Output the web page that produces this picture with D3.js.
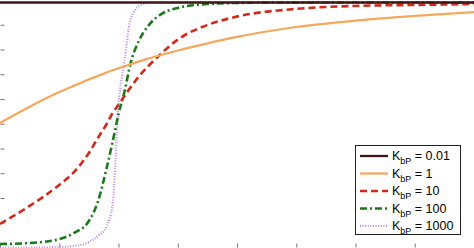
<!DOCTYPE html>
<html>
<head>
<meta charset="utf-8">
<script src="https://cdn.jsdelivr.net/npm/d3@7"></script>
<style>
  body { margin: 0; background: #fff; }
  svg { display: block; }
</style>
</head>
<body>
<div class="vis-linechart"></div>
<script>
// sample positions along x (data units) and curve values
const xs = [0, 0.5, 1, 1.25, 1.5, 1.65, 1.8, 1.9, 2, 2.1, 2.2, 2.35, 2.5, 2.75, 3, 3.5, 4, 5, 6, 7, 8];
const kLabels = ['0.01', '1', '10', '100', '1000'];
const yK001 = [0.99, 0.99, 0.99, 0.99, 0.99, 0.99, 0.99, 0.99, 0.99, 0.99, 0.99, 0.99, 0.99, 0.99, 0.99, 0.99, 0.99, 0.99, 0.99, 0.99, 0.99];
const yK1 = [0.503, 0.569, 0.628, 0.654, 0.679, 0.693, 0.707, 0.716, 0.724, 0.732, 0.740, 0.752, 0.763, 0.780, 0.796, 0.825, 0.851, 0.891, 0.917, 0.936, 0.951];
const yK10 = [0.095, 0.168, 0.253, 0.305, 0.382, 0.442, 0.499, 0.543, 0.577, 0.612, 0.646, 0.693, 0.732, 0.790, 0.840, 0.899, 0.933, 0.964, 0.976, 0.980, 0.984];
const yK100 = [0.014, 0.018, 0.034, 0.059, 0.107, 0.184, 0.321, 0.426, 0.539, 0.628, 0.741, 0.838, 0.895, 0.947, 0.968, 0.984, 0.988, 0.99, 0.99, 0.99, 0.99];
const yK1000 = [0.0, 0.0, 0.002, 0.006, 0.022, 0.046, 0.087, 0.172, 0.576, 0.75, 0.919, 0.976, 0.988, 0.99, 0.99, 0.99, 0.99, 0.99, 0.99, 0.99, 0.99];
const xTicks = [0, 1, 2, 3, 4, 5, 6, 7, 8];
const yTicks = [0.1, 0.2, 0.3, 0.4, 0.5, 0.6, 0.7, 0.8, 0.9];

const width = 474, height = 248;

const series = [
    { k: kLabels[0], values: yK001, color: '#3e1616', width: 2.3, dash: null },
    { k: kLabels[1], values: yK1, color: '#f7a65c', width: 2.2, dash: null },
    { k: kLabels[2], values: yK10, color: '#d02a1c', width: 2.6, dash: '7,4' },
    { k: kLabels[3], values: yK100, color: '#187a18', width: 2.6, dash: '7,3,2,3' },
    { k: kLabels[4], values: yK1000, color: '#b88ce6', width: 2.2, dash: '1,1.6' }
];

let svg = d3.select('.vis-linechart').append('svg')
    .attr('width', width)
    .attr('height', height);

let x = d3.scaleLinear().domain([0, 8]).range([0, 474]);
let y = d3.scaleLinear().domain([0, 1]).range([247.5, 0]);

// ticks, no labels (figure is cropped)
svg.append('g')
    .attr('transform', 'translate(0,247.5)')
    .call(d3.axisTop(x).tickValues(xTicks).tickSize(4).tickFormat(''))
    .call(g => g.select('.domain').remove())
    .call(g => g.selectAll('line').attr('stroke', '#777'));

svg.append('g')
    .attr('transform', 'translate(0.5,0)')
    .call(d3.axisRight(y).tickValues(yTicks).tickSize(4).tickFormat(''))
    .call(g => g.select('.domain').remove())
    .call(g => g.selectAll('line').attr('stroke', '#777'));

let line = d3.line()
    .x(function (d, i) { return x(xs[i]); })
    .y(function (d) { return y(d); })
    .curve(d3.curveMonotoneX);

// draw back to front so the top line sits like the original
[4, 3, 2, 1, 0].forEach(function (i) {
    const s = series[i];
    svg.append('path')
        .datum(s.values)
        .attr('fill', 'none')
        .attr('stroke', s.color)
        .attr('stroke-width', s.width)
        .attr('stroke-dasharray', s.dash)
        .attr('d', line);
});

// legend
const lg = { x: 355, y: 145, w: 105, h: 89 };
let legend = svg.append('g');
legend.append('rect')
    .attr('x', lg.x + 0.5).attr('y', lg.y + 0.5)
    .attr('width', lg.w).attr('height', lg.h)
    .attr('fill', '#fff')
    .attr('stroke', '#222')
    .attr('stroke-width', 1);

let legendG = legend.selectAll('.legend')
    .data(series)
    .enter().append('g')
    .attr('class', 'legend')
    .attr('transform', function (d, i) {
        return 'translate(' + (lg.x + 5) + ',' + (lg.y + 11 + i * 17.5) + ')';
    });

legendG.append('line')
    .attr('x1', 0).attr('x2', 28)
    .attr('y1', 0).attr('y2', 0)
    .attr('stroke', function (d) { return d.color; })
    .attr('stroke-width', function (d) { return d.width; })
    .attr('stroke-dasharray', function (d) { return d.dash; });

let txt = legendG.append('text')
    .attr('x', 32)
    .attr('y', 4)
    .style('font-family', 'Liberation Sans, Arial, sans-serif')
    .style('font-size', '12.5px')
    .attr('fill', '#000');
txt.append('tspan').text('K');
txt.append('tspan').attr('dy', 4).style('font-size', '9px').text('bP');
txt.append('tspan').attr('dy', -4).text(function (d) { return ' = ' + d.k; });
</script>
</body>
</html>
